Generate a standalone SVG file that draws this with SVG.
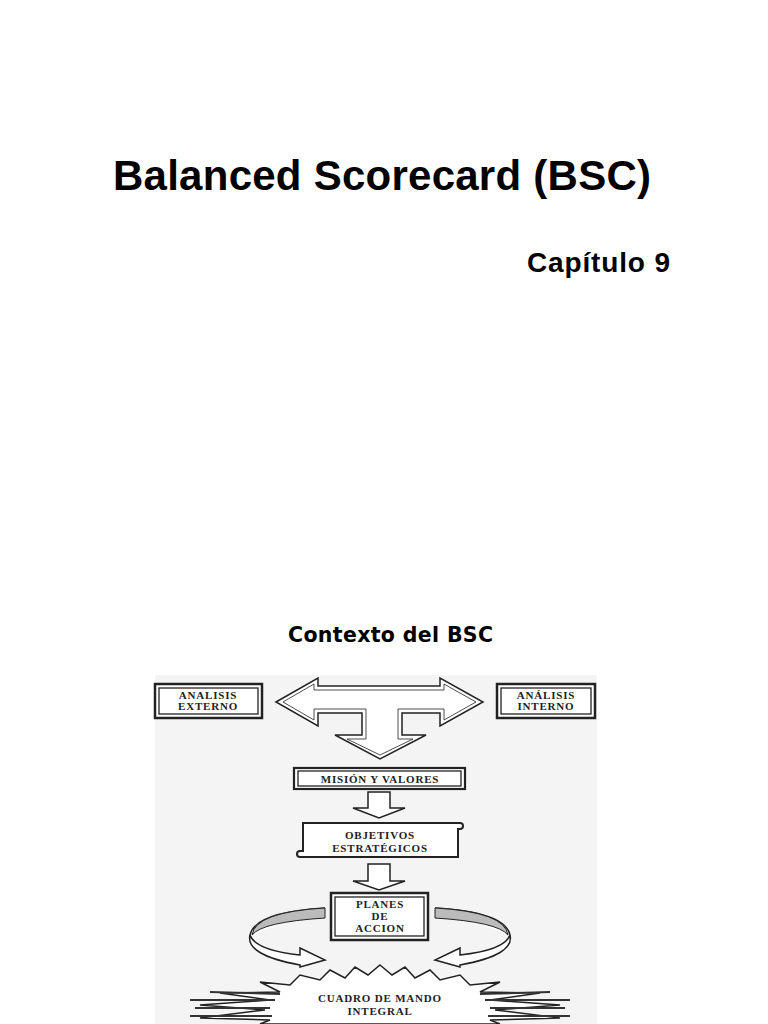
<svg xmlns="http://www.w3.org/2000/svg" width="768" height="1024" viewBox="0 0 768 1024">
<style>
.t{font-family:"Liberation Sans",Arial,sans-serif;font-weight:bold;fill:#000}
.s{font-family:"Liberation Serif","Times New Roman",serif;font-weight:bold;font-size:11px;letter-spacing:0.8px;fill:#222;text-anchor:middle}
.o{fill:none;stroke:#222;stroke-width:1.3}
.a{fill:#fff;stroke:#222;stroke-width:1.5}
.a2{fill:none;stroke:#222;stroke-width:0.8}
</style>
<rect width="768" height="1024" fill="#fff"/>
<text class="t" x="113" y="190" font-size="42" textLength="538">Balanced Scorecard (BSC)</text>
<text class="t" x="527" y="272" font-size="28" textLength="143">Capítulo 9</text>
<text x="288" y="642" font-family="DejaVu Sans,sans-serif" font-weight="bold" font-size="20.5" textLength="205">Contexto del BSC</text>
<rect x="155" y="675" width="442" height="349" fill="#f4f4f4"/>
<g id="externo"><rect x="155" y="684" width="107" height="34" fill="#fff" stroke="#222" stroke-width="2.5"/><rect x="159" y="688" width="99" height="26" class="o"/><text class="s" x="208" y="699">ANALISIS</text><text class="s" x="208" y="710">EXTERNO</text></g>
<g id="interno"><rect x="497" y="684" width="98" height="34" fill="#fff" stroke="#222" stroke-width="2.5"/><rect x="501" y="688" width="90" height="26" class="o"/><text class="s" x="546" y="699">ANÁLISIS</text><text class="s" x="546" y="710">INTERNO</text></g>
<g id="mision"><rect x="294" y="768" width="171" height="21" fill="#fff" stroke="#222" stroke-width="2.2"/><rect x="298" y="771" width="163" height="15" class="o"/><text class="s" x="380" y="783" font-size="12">MISIÓN Y VALORES</text></g>
<g id="objetivos"><path d="M303 823 H460 a3 3 0 0 1 0 6 H458 V857 H300 a3 3 0 0 1 0-6 H303 Z" fill="#fff" stroke="#222" stroke-width="2"/><text class="s" x="380" y="839">OBJETIVOS</text><text class="s" x="380" y="852">ESTRATÉGICOS</text></g>
<g id="planes"><rect x="331" y="893" width="97" height="47" fill="#fff" stroke="#222" stroke-width="2.5"/><rect x="335" y="897" width="89" height="39" class="o"/><text class="s" x="380" y="908">PLANES</text><text class="s" x="380" y="920">DE</text><text class="s" x="380" y="932">ACCION</text></g>
<g id="cuadro">
<path d="M380 965 L392 975 L405 967 L415 978 L430 970 L440 980 L460 975 L470 985 L500 982 L480 992 L540 993 L490 1000 L560 1005 L495 1010 L560 1018 L490 1020 L500 1024 H260 L270 1020 L200 1018 L265 1010 L200 1005 L270 1000 L220 993 L280 992 L260 982 L290 985 L300 975 L320 980 L330 970 L345 978 L355 967 L368 975 Z" fill="#fff" stroke="#222" stroke-width="1.5"/>
<g stroke="#333" stroke-width="2"><line x1="190" y1="1000" x2="275" y2="1000"/><line x1="195" y1="1008" x2="270" y2="1008"/><line x1="190" y1="1016" x2="272" y2="1016"/><line x1="210" y1="992" x2="280" y2="994"/><line x1="570" y1="1000" x2="485" y2="1000"/><line x1="565" y1="1008" x2="490" y2="1008"/><line x1="570" y1="1016" x2="488" y2="1016"/><line x1="550" y1="992" x2="480" y2="994"/></g>
<text class="s" x="380" y="1002" font-size="12">CUADRO DE MANDO</text><text class="s" x="380" y="1015" font-size="12">INTEGRAL</text></g>
<g id="connectors">
<path class="a" d="M276 702 L318 678 V686 H440 V678 L483 702 L440 726 V713 H402 V735 H426 L380 759 L335 735 H362 V713 H318 V726 Z"/>
<path class="a2" d="M283 702 L314 684 V690 H444 V684 L476 702 L444 720 V709 H398 V739 H413 L380 755 L347 739 H366 V709 H314 V720 Z"/>
<path class="a" d="M368 792 H390 V808 H405 L379 818 L353 808 H368 Z"/>
<path class="a" d="M368 864 H390 V881 H405 L379 890 L353 881 H368 Z"/>
<path d="M325 908 Q255 912 250 935 Q255 950 300 955 V948 L325 960 L300 967 V965 Q245 955 250 935" fill="#fff" stroke="#222" stroke-width="1.5"/>
<path d="M325 908 V918 Q262 922 252 935 Q255 912 325 908Z" fill="#bbb" stroke="#222" stroke-width="1"/>
<path d="M435 908 Q505 912 510 935 Q505 950 460 955 V948 L435 960 L460 967 V965 Q515 955 510 935" fill="#fff" stroke="#222" stroke-width="1.5"/>
<path d="M435 908 V918 Q498 922 508 935 Q505 912 435 908Z" fill="#bbb" stroke="#222" stroke-width="1"/>
</g>
</svg>
